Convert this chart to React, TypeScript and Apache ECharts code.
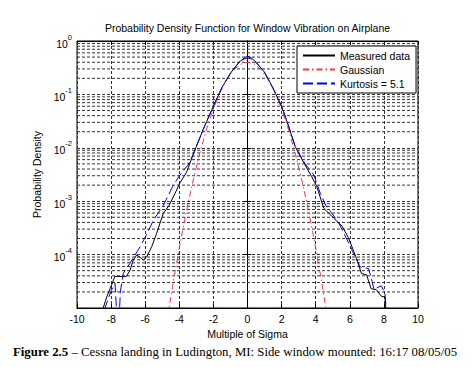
import React, { useEffect, useRef } from 'react';
import * as echarts from 'echarts';

const chartTitle = 'Probability Density Function for Window Vibration on Airplane';
const xName = 'Multiple of Sigma';
const yName = 'Probability Density';
const caption = 'Figure 2.5';
const captionRest = ' \u2013 Cessna landing in Ludington, MI: Side window mounted: 16:17 08/05/05';
const legendNames = ['Measured data', 'Gaussian', 'Kurtosis = 5.1'];

const measuredX = [-8.62, -8.26, -7.97, -7.78, -7.1, -6.9, -6.7, -6.5, -6.3, -6.1, -5.9, -5.62, -5.33, -5.13, -4.94, -4.6, -4.25, -3.96, -3.57, -3.18, -2.6, -2.0, -1.5, -1.0, -0.5, -0.2, 0.0, 0.2, 0.5, 1.0, 1.5, 2.0, 2.4, 2.8, 3.27, 3.76, 4.06, 4.47, 5.25, 5.55, 5.91, 6.21, 6.5, 6.68, 6.98, 7.25, 7.55, 7.85, 8.06, 8.18];
const measuredY = [7.0e-6, 1.6e-5, 2.7e-5, 3.9e-5, 3.9e-5, 5.0e-5, 7.9e-5, 9.8e-5, 8.9e-5, 7.9e-5, 9.3e-5, 1.4e-4, 2.5e-4, 3.9e-4, 5.9e-4, 8.3e-4, 1.4e-3, 2.2e-3, 3.5e-3, 7.6e-3, 2.2e-2, 6.0e-2, 1.35e-1, 2.5e-1, 4.0e-1, 4.8e-1, 5.2e-1, 4.9e-1, 4.0e-1, 2.6e-1, 1.3e-1, 6.0e-2, 2.6e-2, 1.05e-2, 5.5e-3, 2.9e-3, 1.9e-3, 7.4e-4, 4.2e-4, 3.4e-4, 2.1e-4, 1.2e-4, 6.8e-5, 4.4e-5, 4.2e-5, 2.3e-5, 2.2e-5, 1.66e-5, 1.6e-5, 6.0e-6];

const gaussX = [-4.8, -4.4, -4.0, -3.6, -3.2, -2.8, -2.4, -2.0, -1.6, -1.2, -0.8, -0.4, 0.0, 0.4, 0.8, 1.2, 1.6, 2.0, 2.4, 2.8, 3.2, 3.6, 4.0, 4.4, 4.8];
const gaussY = [3.96e-6, 2.5e-5, 1.34e-4, 6.12e-4, 2.38e-3, 7.92e-3, 2.24e-2, 5.4e-2, 1.109e-1, 1.942e-1, 2.897e-1, 3.683e-1, 3.989e-1, 3.683e-1, 2.897e-1, 1.942e-1, 1.109e-1, 5.4e-2, 2.24e-2, 7.92e-3, 2.38e-3, 6.12e-4, 1.34e-4, 2.5e-5, 3.96e-6];

const kurtX = [-8.48, -8.36, -8.0, -7.77, -7.62, -7.55, -7.46, -7.28, -6.89, -6.6, -6.3, -5.91, -5.52, -4.94, -4.35, -3.9, -3.5, -3.18, -2.6, -2.0, -1.5, -1.0, -0.5, -0.2, 0.0, 0.2, 0.5, 1.0, 1.5, 2.0, 2.4, 2.8, 3.37, 3.86, 4.0, 4.27, 4.6, 5.3, 6.0, 6.4, 6.6, 6.9, 7.1, 7.3, 7.42, 7.6, 7.85, 8.06, 8.2];
const kurtY = [5.0e-6, 1.0e-5, 2.1e-5, 2.9e-5, 4.0e-6, 4.0e-6, 2.0e-5, 4.5e-5, 6.9e-5, 9.8e-5, 1.4e-4, 2.4e-4, 4.4e-4, 8.3e-4, 2.0e-3, 3.3e-3, 4.7e-3, 7.6e-3, 2.2e-2, 6.1e-2, 1.35e-1, 2.5e-1, 3.95e-1, 4.6e-1, 4.8e-1, 4.65e-1, 4.0e-1, 2.55e-1, 1.3e-1, 6.0e-2, 2.6e-2, 1.05e-2, 5.1e-3, 3.2e-3, 2.5e-3, 1.4e-3, 8.3e-4, 4.2e-4, 1.5e-4, 7.9e-5, 5.9e-5, 5.6e-5, 5.5e-5, 3.2e-5, 2.2e-5, 2.4e-5, 2.6e-5, 1.9e-5, 5.0e-6];

const xMin = -10;
const xMax = 10;
const xStep = 2;
const yMin = 1e-5;
const yMax = 1;
const minorMultipliers = [2, 3, 4, 5, 6, 7, 8, 9];
const decadeExponents = [-5, -4, -3, -2, -1];

const sans = 'Liberation Sans, Arial, Helvetica, sans-serif';
const serif = 'Liberation Serif, Times New Roman, serif';

const zip = (xs: number[], ys: number[]) => xs.map((x, i) => [x, ys[i]]);

export default function App() {
  const ref = useRef<HTMLDivElement>(null);
  useEffect(() => {
    if (!ref.current) return;
    const chart = echarts.init(ref.current, undefined, { renderer: 'svg' });
    const gridStyle = { type: [3, 2] as any, color: '#333', width: 1 };
    const minorSeries: any[] = [];
    decadeExponents.forEach((e) => {
      minorMultipliers.forEach((m) => {
        const v = m * Math.pow(10, e);
        minorSeries.push({
          name: 'grid' + e + '_' + m,
          type: 'line',
          data: [[xMin, v], [xMax, v]],
          symbol: 'none',
          showSymbol: false,
          silent: true,
          z: 1,
          lineStyle: gridStyle,
          emphasis: { disabled: true },
        });
      });
    });
    const option: any = {
      animation: false,
      backgroundColor: '#fff',
      grid: { left: 77, right: 56, top: 41, bottom: 59, show: true, borderColor: '#000', borderWidth: 1, backgroundColor: 'transparent' },
      graphic: [
        {
          type: 'text', x: 247.5, y: 28, silent: true,
          style: { text: chartTitle, fill: '#000', fontSize: 10.5, fontFamily: sans, align: 'center', textAlign: 'center', verticalAlign: 'middle', textVerticalAlign: 'middle' },
        },
        {
          type: 'text', x: 13, y: 352, silent: true,
          style: {
            text: '{b|' + caption + '}' + captionRest,
            fill: '#000', fontSize: 12.8, fontFamily: serif, verticalAlign: 'middle', textVerticalAlign: 'middle',
            rich: { b: { fontWeight: 'bold', fontSize: 12.8, fontFamily: serif, fill: '#000' } },
          },
        },
      ],
      legend: {
        data: legendNames,
        orient: 'vertical',
        left: 297,
        top: 46,
        padding: [4, 6, 4, 5],
        itemGap: 3,
        itemWidth: 32,
        itemHeight: 10,
        borderColor: '#000',
        borderWidth: 1,
        borderRadius: 0,
        backgroundColor: '#fff',
        selectedMode: false,
        itemStyle: { opacity: 0 },
        textStyle: { fontSize: 10.5, color: '#000', fontFamily: sans },
        z: 10,
      },
      xAxis: [
        {
          type: 'value', min: xMin, max: xMax, interval: xStep,
          name: xName, nameLocation: 'middle', nameGap: 19,
          nameTextStyle: { fontSize: 10.5, color: '#000', fontFamily: sans },
          axisLine: { show: true, onZero: false, lineStyle: { color: '#000', width: 1 } },
          axisTick: { show: true, inside: true, length: 4, lineStyle: { color: '#000' } },
          axisLabel: { fontSize: 10.5, color: '#000', fontFamily: sans, margin: 5 },
          splitLine: { show: true, lineStyle: gridStyle },
        },
        {
          type: 'value', min: xMin, max: xMax, interval: xStep, position: 'top',
          axisLine: { show: true, onZero: false, lineStyle: { color: '#000', width: 1 } },
          axisTick: { show: true, inside: true, length: 4, lineStyle: { color: '#000' } },
          axisLabel: { show: false },
          splitLine: { show: false },
        },
      ],
      yAxis: [
        {
          type: 'log', logBase: 10, min: yMin, max: yMax,
          name: yName, nameLocation: 'middle', nameGap: 28, nameRotate: 90,
          nameTextStyle: { fontSize: 10.5, color: '#000', fontFamily: sans },
          axisLine: { show: true, lineStyle: { color: '#000', width: 1 } },
          axisTick: { show: true, inside: true, length: 4, lineStyle: { color: '#000' } },
          axisLabel: {
            margin: 5,
            formatter: (v: number) => {
              const e = Math.round(Math.log10(v));
              if (e <= -5) return '';
              return '{b|10}{s|' + e + '}';
            },
            rich: {
              b: { fontSize: 10.5, color: '#000', fontFamily: sans, lineHeight: 16, verticalAlign: 'bottom' },
              s: { fontSize: 7.5, color: '#000', fontFamily: sans, lineHeight: 8, verticalAlign: 'top' },
            },
          },
          splitLine: { show: true, lineStyle: gridStyle },
        },
        {
          type: 'log', logBase: 10, min: yMin, max: yMax, position: 'right',
          axisLine: { show: true, lineStyle: { color: '#000', width: 1 } },
          axisTick: { show: true, inside: true, length: 4, lineStyle: { color: '#000' } },
          axisLabel: { show: false },
          splitLine: { show: false },
        },
      ],
      series: [
        ...minorSeries,
        {
          name: legendNames[0], type: 'line', data: zip(measuredX, measuredY),
          symbol: 'none', showSymbol: false, clip: true, z: 3,
          lineStyle: { color: '#000', width: 1, type: 'solid' },
          itemStyle: { color: '#000' },
        },
        {
          name: legendNames[1], type: 'line', data: zip(gaussX, gaussY),
          symbol: 'none', showSymbol: false, clip: true, z: 4,
          lineStyle: { color: '#f5363f', width: 1, type: [6, 3, 1.5, 3] },
          itemStyle: { color: '#f5363f' },
        },
        {
          name: legendNames[2], type: 'line', data: zip(kurtX, kurtY),
          symbol: 'none', showSymbol: false, clip: true, z: 5,
          lineStyle: { color: '#0000ee', width: 1, type: [10, 4] },
          itemStyle: { color: '#0000ee' },
        },
      ],
    };
    chart.setOption(option);
    return () => chart.dispose();
  }, []);
  return (
    <div
      ref={ref}
      style={{ position: 'fixed', left: 0, top: 0, width: 474, height: 367, background: '#fff' }}
    />
  );
}
